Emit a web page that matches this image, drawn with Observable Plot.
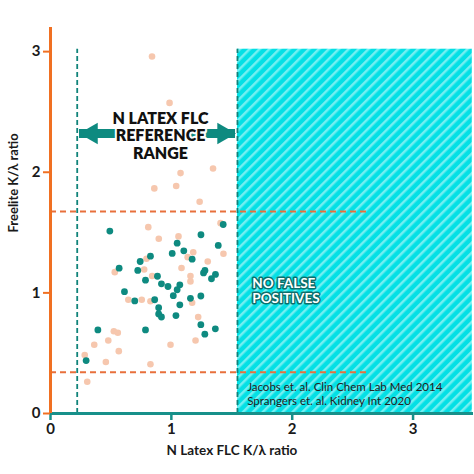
<!DOCTYPE html>
<html><head><meta charset="utf-8">
<script src="https://cdn.jsdelivr.net/npm/d3@7"></script>
<script src="https://cdn.jsdelivr.net/npm/@observablehq/plot@0.6"></script>
<style>html,body{margin:0;padding:0;background:#fff;} #chart svg{display:block;}</style>
</head><body><div id="chart"></div>
<script>
// N Latex FLC κ/λ ratio (x) vs Freelite κ/λ ratio (y)
const tealX = [0.491,1.429,1.245,1.048,1.388,1.007,1.103,0.827,1.172,0.742,0.568,0.722,1.278,1.266,1.365,1.332,0.885,0.786,0.918,0.972,1.070,1.048,1.016,1.158,1.244,0.612,0.697,0.862,0.895,0.895,0.918,1.070,1.038,1.244,1.364,1.277,0.392,0.786,0.295];
const tealY = [1.512,1.567,1.482,1.412,1.393,1.327,1.349,1.304,1.279,1.260,1.205,1.186,1.186,1.165,1.153,1.117,1.138,1.105,1.075,1.053,1.067,1.026,0.977,0.955,0.974,1.010,0.933,0.943,0.877,0.825,0.800,0.901,0.812,0.736,0.702,0.658,0.693,0.693,0.439];
const peachX = [0.840,0.985,1.076,1.345,0.859,1.040,1.234,0.809,1.407,0.896,1.059,1.181,1.135,1.431,1.301,0.794,0.532,0.775,1.084,0.841,1.158,1.158,0.644,0.755,0.827,1.172,1.222,0.524,0.557,0.478,0.362,0.565,0.993,1.200,0.283,0.458,0.827,0.304];
const peachY = [2.960,2.575,1.993,2.031,1.866,1.886,1.755,1.545,1.578,1.449,1.468,1.337,1.296,1.324,1.260,1.283,1.172,1.194,1.206,1.140,1.140,1.095,0.943,0.943,0.930,0.918,0.799,0.682,0.670,0.605,0.570,0.517,0.570,0.605,0.485,0.427,0.408,0.263];
const xTicks = [0, 1, 2, 3];
const yTicks = [0, 1, 2, 3];
const refRangeX = [0.221, 1.547];      // N Latex FLC reference range
const freeliteRangeY = [0.342, 1.675]; // Freelite reference range
const freeliteLineEnd = 2.62;
const zoneTop = 3.02;
const zoneRight = 3.49;
const arrowY = 2.322;
const arrowTips = [0.24, 1.531];
const xLabel = "N Latex FLC Κ/λ ratio";
const yLabel = "Freelite Κ/λ ratio";
const annotRef = [{x: 0.91, y: 2.305, text: "N LATEX FLC\nREFERENCE\nRANGE"}];
const annotNFP = [{x: 1.67, y: 1.016, text: "NO FALSE\nPOSITIVES"}];
const annotCite = [{x: 1.627, y: 0.167, text: "Jacobs et. al. Clin Chem Lab Med 2014\nSprangers et. al. Kidney Int 2020"}];

const teal = tealX.map((x, i) => ({x, y: tealY[i]}));
const peach = peachX.map((x, i) => ({x, y: peachY[i]}));

const TEAL = "#0e8a80", ORANGE = "#f07022", DASHORANGE = "#e8703c";

const svg = Plot.plot({
  width: 474, height: 474,
  marginLeft: 50, marginRight: 1, marginTop: 27, marginBottom: 61,
  style: {fontFamily: "Lato, sans-serif", background: "#fff"},
  x: {domain: [0, 3.5], axis: null},
  y: {domain: [0, 3.2], axis: null},
  marks: [
    Plot.rect([{x1: refRangeX[1], x2: zoneRight, y1: 0, y2: zoneTop}], {x1: "x1", x2: "x2", y1: "y1", y2: "y2", fill: "url(#hatch)"}),
    Plot.ruleY(freeliteRangeY, {x1: 0, x2: freeliteLineEnd, stroke: DASHORANGE, strokeWidth: 2, strokeDasharray: "6,4"}),
    Plot.ruleX(refRangeX, {y1: 0, y2: zoneTop, stroke: "#10837a", strokeWidth: 1.8, strokeDasharray: "5,3"}),
    Plot.dot(peach, {x: "x", y: "y", r: 3.3, fill: "#f6c7ae", stroke: "none"}),
    Plot.dot(teal, {x: "x", y: "y", r: 3.4, fill: TEAL, stroke: "none"}),
    Plot.ruleY([0], {stroke: "#17908a", strokeWidth: 3}),
    Plot.ruleX([0], {y1: 0, y2: 3.2, stroke: ORANGE, strokeWidth: 3}),
    Plot.axisX({ticks: xTicks, tickFormat: d3.format("d"), tickSize: 7, tickPadding: 3, stroke: "#17908a", strokeWidth: 2.5, fill: "#1a1a1a", fontSize: 15, fontWeight: 700, label: null}),
    Plot.axisY({ticks: yTicks, tickFormat: d3.format("d"), tickSize: 7, tickPadding: 3, stroke: ORANGE, strokeWidth: 2, fill: "#1a1a1a", fontSize: 15, fontWeight: 700, label: null}),
    Plot.ruleY([arrowY], {x1: arrowTips[0], x2: arrowTips[1], stroke: TEAL, strokeWidth: 9}),
    Plot.dot([{x: arrowTips[0], y: arrowY}], {x: "x", y: "y", symbol: "triangle", r: 8, rotate: -90, dx: 12, fill: TEAL}),
    Plot.dot([{x: arrowTips[1], y: arrowY}], {x: "x", y: "y", symbol: "triangle", r: 8, rotate: 90, dx: -12, fill: TEAL}),
    Plot.text(annotRef, {x: "x", y: "y", text: "text", fontSize: 16, fontWeight: 800, lineHeight: 1.1, fill: "#111", stroke: "#fff", strokeWidth: 4}),
    Plot.text(annotNFP, {x: "x", y: "y", text: "text", textAnchor: "start", fontSize: 13.5, fontWeight: 700, lineHeight: 1.12, fill: "#fff", stroke: "#0b6f6c", strokeWidth: 3}),
    Plot.text(annotCite, {x: "x", y: "y", text: "text", textAnchor: "start", fontSize: 11.5, lineHeight: 1.24, fill: "#222"}),
    Plot.text([xLabel], {frameAnchor: "bottom", lineAnchor: "middle", dx: -30, dy: 37, fontSize: 13.5, fontWeight: 700, fill: "#1a1a1a"}),
    Plot.text([yLabel], {frameAnchor: "left", lineAnchor: "middle", dx: -37, dy: 12, rotate: -90, fontSize: 13, fontWeight: 700, fill: "#1a1a1a"})
  ]
});

const defs = d3.select(svg).insert("defs", ":first-child");
const pat = defs.append("pattern").attr("id", "hatch").attr("patternUnits", "userSpaceOnUse")
  .attr("width", 7).attr("height", 7).attr("patternTransform", "rotate(45)");
pat.append("rect").attr("width", 7).attr("height", 7).attr("fill", "#03e0e5");
pat.append("rect").attr("width", 2.5).attr("height", 7).attr("fill", "#74eff1");

document.getElementById("chart").appendChild(svg);
</script>
</body></html>
